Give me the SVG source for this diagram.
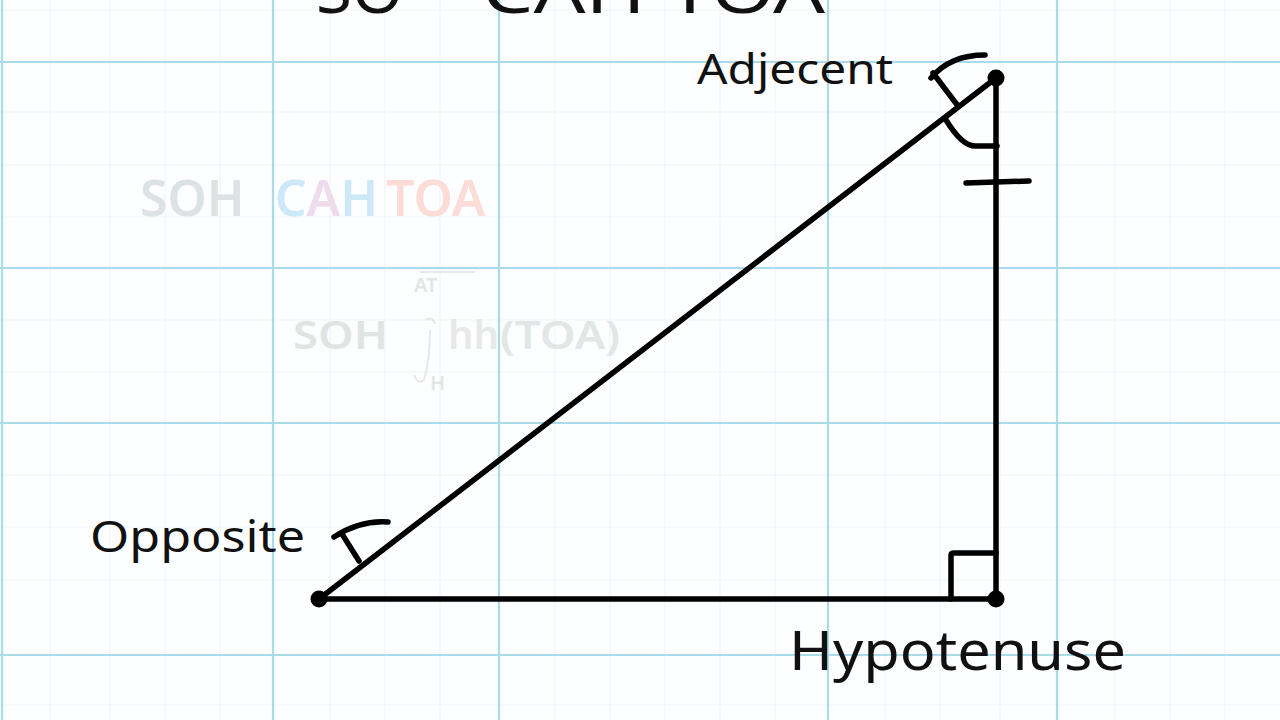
<svg xmlns="http://www.w3.org/2000/svg" width="1280" height="720" viewBox="0 0 1280 720">
<style>
.major{stroke:#a9dbe9;stroke-width:2.2;fill:none}
.minor{stroke:#f0f6f8;stroke-width:1.2;fill:none}
.ink{stroke:#000;stroke-width:5.5;fill:none;stroke-linecap:round;stroke-linejoin:round}
.lbl{font-family:"Noto Sans","DejaVu Sans",sans-serif;fill:#111}
.faint{font-family:"Noto Sans","DejaVu Sans",sans-serif;font-weight:600}
</style>
<rect width="1280" height="720" fill="#fdfeff"/>
<g id="grid">
<g class="minor">
<path d="M50 0V720M110 0V720M165 0V720M220 0V720M330 0V720M385 0V720M440 0V720M555 0V720M610 0V720M665 0V720M720 0V720M775 0V720M885 0V720M940 0V720M1000 0V720M1115 0V720M1170 0V720M1225 0V720"/>
<path d="M0 10H1280M0 112H1280M0 165H1280M0 217H1280M0 320H1280M0 372H1280M0 475H1280M0 527H1280M0 580H1280M0 705H1280"/>
</g>
<g class="major">
<path d="M2 0V720M273 0V720M499 0V720M828 0V720M1057 0V720"/>
<path d="M0 62H1280M0 268H1280M0 423H1280M0 655H1280"/>
</g>
</g>
<g id="title">
<text class="lbl" font-size="62" x="316" y="13" textLength="87" lengthAdjust="spacingAndGlyphs">SO</text>
<text class="lbl" font-size="62" x="482" y="13" textLength="343" lengthAdjust="spacingAndGlyphs">CAH TOA</text>
</g>
<g id="faint-notes">
<text class="faint" font-size="50" x="140" y="216"><tspan fill="#dde2e2">SOH</tspan><tspan dx="30" fill="#cde8f6">C</tspan><tspan fill="#eedbec">A</tspan><tspan fill="#cde8f6">H</tspan><tspan dx="8" fill="#fbdcd6">TOA</tspan></text>
<text class="faint" font-size="40" x="293" y="349" fill="#e0e4e3" font-weight="400" textLength="95" lengthAdjust="spacingAndGlyphs">SOH</text>
<text class="faint" font-size="40" x="448" y="349" fill="#e6e9e7" font-weight="400">hh</text>
<text class="faint" font-size="40" x="500" y="349" fill="#e2e6e4" font-weight="400" textLength="120" lengthAdjust="spacingAndGlyphs">(TOA)</text>
<text class="faint" font-size="20" x="414" y="292" fill="#e2e5e4" font-weight="400">AT</text>
<text class="faint" font-size="20" x="430" y="390" fill="#e2e5e4" font-weight="400">H</text>
<path d="M420 272H475M425 320q8 -4 10 4M430 330q0 30 -6 50q-6 5 -10 -5" stroke="#e6e9e7" stroke-width="2" fill="none"/>
</g>
<g id="connectors">
<path class="ink" d="M319 599L996 78"/>
<path class="ink" d="M319 599H996"/>
<path class="ink" d="M996 78V599"/>
</g>
<g id="vertex-opposite">
<circle cx="319" cy="599" r="8.5"/>
<path class="ink" d="M334 537Q360 520 388 522"/>
<path class="ink" d="M342 534L359 561"/>
<text class="lbl" font-size="44" x="90" y="552" textLength="215" lengthAdjust="spacingAndGlyphs">Opposite</text>
</g>
<g id="vertex-adjecent">
<circle cx="996" cy="78" r="8.5"/>
<path class="ink" d="M931 78Q950 55 985 55"/>
<path class="ink" d="M933 73L958 106"/>
<path class="ink" d="M946 120Q962 146 975 146H997"/>
<path class="ink" d="M966 183L1029 181"/>
<text class="lbl" font-size="42" x="697" y="84" textLength="196" lengthAdjust="spacingAndGlyphs">Adjecent</text>
</g>
<g id="vertex-hypotenuse">
<circle cx="996" cy="599" r="8.5"/>
<path class="ink" d="M951 599V555Q951 553 954 553H996"/>
<text class="lbl" font-size="54" x="789" y="670" textLength="337" lengthAdjust="spacingAndGlyphs">Hypotenuse</text>
</g>
</svg>
